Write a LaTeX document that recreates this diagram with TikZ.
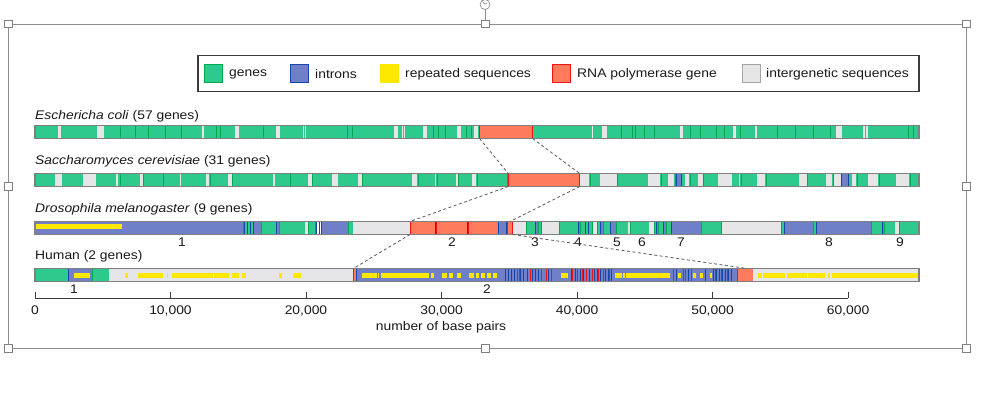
\documentclass[tikz,border=0pt]{standalone}
\usepackage{fontspec}
\setmainfont{Liberation Sans}
\usetikzlibrary{arrows.meta}
\definecolor{genefill}{RGB}{46,201,140}
\definecolor{geneline}{RGB}{0,168,80}
\definecolor{intronfill}{RGB}{112,128,200}
\definecolor{intronline}{RGB}{20,70,170}
\definecolor{repfill}{RGB}{255,232,0}
\definecolor{polyfill}{RGB}{255,123,92}
\definecolor{polyline}{RGB}{240,20,20}
\definecolor{interfill}{RGB}{230,230,232}
\definecolor{interline}{RGB}{165,165,165}
\definecolor{barline}{RGB}{128,128,128}
\definecolor{txt}{RGB}{25,25,25}
\tikzset{
 lbl/.style={font=\fontsize{12.5}{14}\selectfont, text=txt, inner sep=0pt, xscale=1.11},
 gene/.style={fill=genefill, draw=geneline, line width=0.5pt},
 intron/.style={fill=intronfill, draw=intronline, line width=0.8pt},
 rep/.style={fill=repfill},
 poly/.style={fill=polyfill, draw=polyline, line width=0.9pt},
 inter/.style={fill=interfill},
 bar/.style={draw=barline, line width=1.1pt},
 sep/.style={geneline, line width=0.9pt},
 iline/.style={intronline, line width=1pt},
 pline/.style={polyline, line width=1pt},
 swatch/.style={minimum width=18pt, minimum height=18.5pt, inner sep=0pt, line width=1pt},
 link/.style={barline!70!black, line width=0.8pt, dash pattern=on 3pt off 2.5pt},
 axis/.style={draw=txt!85, line width=1pt},
 frame/.style={draw=barline!90, line width=0.6pt},
 handle/.style={draw=barline, fill=white, line width=0.6pt},
}

\begin{document}
\begin{tikzpicture}[x=1pt,y=-1pt]
    \useasboundingbox (0,0) rectangle (1004,396);
    % selection frame
    \draw[frame] (8,24) rectangle (966,348);
    \draw[frame] (485,20.5) -- (485,9.5);
    \draw[handle] (485,4.5) circle (5);
    \draw[barline, line width=0.5pt, -{Stealth[length=1.5pt]}] (487.3,3) arc (40:330:2.6);
    \foreach \hx/\hy in {8/24, 485/24, 966/24, 8/186, 966/186, 8/348, 485/348, 966/348}
        \draw[handle] (\hx-3.8,\hy-3.8) rectangle (\hx+3.8,\hy+3.8);

    % legend
    \draw[draw=txt!85, line width=1.1pt] (198,55.5) rectangle (919,91.5);
    \node[swatch, fill=genefill, draw=geneline] (sgene) at (213.7,73.7) {};
    \node[swatch, fill=intronfill, draw=intronline] (sintron) at (299.3,73.7) {};
    \node[swatch, fill=repfill, draw=repfill] (srep) at (389.3,73.7) {};
    \node[swatch, fill=polyfill, draw=polyline] (spoly) at (561.3,73.7) {};
    \node[swatch, fill=interfill, draw=interline] (sinter) at (751,73.7) {};
    \node[lbl, anchor=west] (lgene) at (229,74) {genes};
    \node[lbl, anchor=west] (lintron) at (315,74) {introns};
    \node[lbl, anchor=west] (lrep) at (405,74) {repeated sequences};
    \node[lbl, anchor=west] (lpoly) at (577,74) {RNA polymerase gene};
    \node[lbl, anchor=west] (linter) at (766,74) {intergenetic sequences};

    % species names
    \node[lbl, anchor=base west] (ecoli) at (35,119) {\textit{Eschericha coli} (57 genes)};
    \node[lbl, anchor=base west] (yeast) at (35,164.5) {\textit{Saccharomyces cerevisiae} (31 genes)};
    \node[lbl, anchor=base west] (fly) at (35,212.5) {\textit{Drosophila melanogaster} (9 genes)};
    \node[lbl, anchor=base west] (human) at (35,259) {Human (2 genes)};

    % E. coli
    \fill[genefill] (35,125.5) rectangle (919,138.5);
    \foreach \a/\b in {58.3/60.7, 97.3/104, 201.7/204.3, 235/239.3, 276/280, 303/304.3, 305/306.3,
        394/397.7, 401.7/403, 404/405.3, 423.3/426.7, 456.7/460.7, 474.3/478.3, 591.7/593.3,
        601.7/606.7, 680/682.7, 733.3/736, 755/757.3, 836/841.7, 863.3/865, 866/868.3}
        \fill[inter] (\a,125.5) rectangle (\b,138.5);
    \foreach \a in {120, 135.7, 148, 165.7, 181.7, 216.7, 220, 263, 347.3, 352.3, 433, 438, 445,
        466.7, 471.7, 621.7, 632.7, 635, 644.3, 654, 690, 700, 716.7, 724.3, 740, 777.7, 795,
        813.3, 830, 908.3, 913.3}
        \draw[sep] (\a,125.5) -- (\a,138.5);
    \draw[poly] (479.5,125.5) rectangle (532.5,138.5);
    \draw[bar] (35,125.5) rectangle (919,138.5);

    % S. cerevisiae
    \fill[genefill] (35,173.5) rectangle (919,186.5);
    \foreach \a/\b in {55/61.7, 83.3/96, 116/117.5, 140/142.7, 179.5/181, 206/209.3, 228.3/231.7,
        273.3/275, 308.3/312.7, 331.7/338.3, 358.3/361.7, 411.7/417.3, 434.5/436, 456/457.5,
        471.7/476, 580/589.3, 600/616.7, 648.3/660, 668.3/674, 685/689.3, 698.3/702.7,
        718.3/731.7, 738.5/740, 757.3/765, 799.3/806.7, 826/831.7, 834/841.7, 851.7/856,
        868.3/878.3, 896/909.3}
        \fill[inter] (\a,173.5) rectangle (\b,186.5);
    \foreach \a in {120, 143, 163, 210, 232, 290, 312, 362, 418, 437, 458, 477, 507, 590, 617,
        661, 675, 690, 703, 741, 766, 807, 833, 857, 879, 910}
        \draw[sep] (\a,173.5) -- (\a,186.5);
    \draw[intron] (676.7,173.5) rectangle (681.7,186.5);
    \draw[intron] (841.7,173.5) rectangle (848.3,186.5);
    \draw[poly] (508.3,173.5) rectangle (579.7,186.5);
    \draw[bar] (35,173.5) rectangle (919,186.5);

    % D. melanogaster
    \foreach \s/\a/\b in {intron/35/243.3, gene/243.3/253.3, intron/253.3/261.7, gene/261.7/276.7,
        intron/276.7/279.3, gene/279.3/305, inter/305/308.3, gene/308.3/315, intron/321.7/348.3,
        gene/348.3/353.3, inter/353.3/410, poly/410/435, intron/435/436.7, poly/436.7/467,
        intron/467/468.3, poly/468.3/498.3, intron/498.3/506.7, poly/507.3/512.7,
        inter/512.7/526, gene/526/535, intron/535/538.3, gene/538.3/541.7, inter/541.7/559.3,
        gene/559.3/578.3, intron/578.3/580, gene/580/585, gene/585/592.7, inter/592.7/597.3,
        gene/597.3/600, intron/600/603, gene/603/610, intron/610/616.7, gene/616.7/628.3,
        inter/628.3/630, gene/630/649.3, inter/649.3/654, gene/654/656.7, intron/656.7/658.3,
        gene/658.3/663.3, intron/663.3/666.7, gene/666.7/671.7, intron/671.7/701.7,
        gene/701.7/721.7, inter/721.7/781.7, gene/781.7/784, intron/784/813.3,
        gene/813.3/816.7, intron/816.7/871.7, gene/871.7/882.7, intron/882.7/884,
        gene/884/895, inter/895/899.3, gene/899.3/919}
        \path[\s] (\a,221.5) rectangle (\b,234.5);
    \foreach \a in {244.5, 247.5, 250.5, 316.5, 319.5, 585.5, 588.5}
        \draw[iline] (\a,221.5) -- (\a,234.5);
    \fill[rep] (36,224.2) rectangle (121.7,229.4);
    \draw[bar] (35,221.5) rectangle (919,234.5);

    % Human
    \foreach \s/\a/\b in {gene/35/68.3, intron/68.3/92.7, gene/92.7/109.3, inter/109.3/353.3,
        poly/353.3/356.7, intron/356.7/737, poly/737/753.3, inter/753.3/919}
        \path[\s] (\a,268.5) rectangle (\b,281.5);
    \foreach \a/\b in {74/90, 125/128.3, 138.3/163.3, 166.7/168.3, 171.7/212.7, 214.3/229.3,
        231.7/239.3, 241.7/246, 279.3/281.7, 292.7/301, 361.7/376.7, 378.3/379.3, 380.7/429.3,
        431/434, 441.7/446.7, 449.3/452.7, 456.7/461, 469.3/474, 476/479.3, 481/485, 486.7/491,
        493.3/496.7, 560.7/568.3, 615/621.7, 623.3/625, 626/670, 678/681, 693/696, 700/703,
        710/712, 758.3/761.7, 763.3/785, 786.7/806.7, 808.3/825, 828.3/830, 831.7/918.5}
        \fill[rep] (\a,273.1) rectangle (\b,277.5);
    \foreach \a in {505, 508.3, 511.7, 514.5, 520, 523.3, 527, 532, 535, 538.3, 548, 571.7, 575,
        580, 583, 589, 594, 597, 600.7, 605, 608, 611, 676, 688, 705, 713.3, 716, 719, 722, 725,
        728, 731}
        \draw[iline] (\a,269) -- (\a,281);
    \foreach \a in {517.3, 519.3, 530, 541.7, 546.7, 551.7, 572.7, 577, 582, 586, 592, 598.3, 603,
        609, 673.3, 683, 685, 691.7, 715, 721, 727}
        \draw[pline] (\a,269) -- (\a,281);
    \draw[bar] (35,268.5) rectangle (919,281.5);

    % gene numbers
    \foreach \n/\x in {1/182, 2/452, 3/535, 4/578, 5/617, 6/642, 7/681, 8/829, 9/900}
        \node[lbl] (d\n) at (\x,242) {\n};
    \node[lbl] (h1) at (74,289.5) {1};
    \node[lbl] (h2) at (487,289.5) {2};

    % links between polymerase genes
    \coordinate (ec-l) at (479.5,138.5);
    \coordinate (ec-r) at (532.5,138.5);
    \coordinate (sc-lt) at (508.3,173.5);
    \coordinate (sc-rt) at (579.7,173.5);
    \coordinate (sc-lb) at (508.3,186.5);
    \coordinate (sc-rb) at (579.7,186.5);
    \coordinate (dm-lt) at (410,221.5);
    \coordinate (dm-rt) at (510,221.5);
    \coordinate (dm-lb) at (410,234.5);
    \coordinate (dm-rb) at (512.7,234.5);
    \coordinate (hs-lt) at (353.3,268.5);
    \coordinate (hs-rt) at (747,268.5);
    \draw[link] (ec-l) -- (sc-lt);
    \draw[link] (ec-r) -- (sc-rt);
    \draw[link] (sc-lb) -- (dm-lt);
    \draw[link] (sc-rb) -- (dm-rt);
    \draw[link] (dm-lb) -- (hs-lt);
    \draw[link] (dm-rb) -- (hs-rt);

    % axis
    \draw[axis] (35,298) -- (848,298);
    \foreach \i/\t in {0/0, 1/{10,000}, 2/{20,000}, 3/{30,000}, 4/{40,000}, 5/{50,000}, 6/{60,000}} {
        \draw[axis] (35+135.5*\i,298) -- (35+135.5*\i,292);
        \node[lbl] (t\i) at (35+135.5*\i,310.5) {\t};
    }
    \node[lbl] (xlabel) at (441,327.5) {number of base pairs};
\end{tikzpicture}
\end{document}
